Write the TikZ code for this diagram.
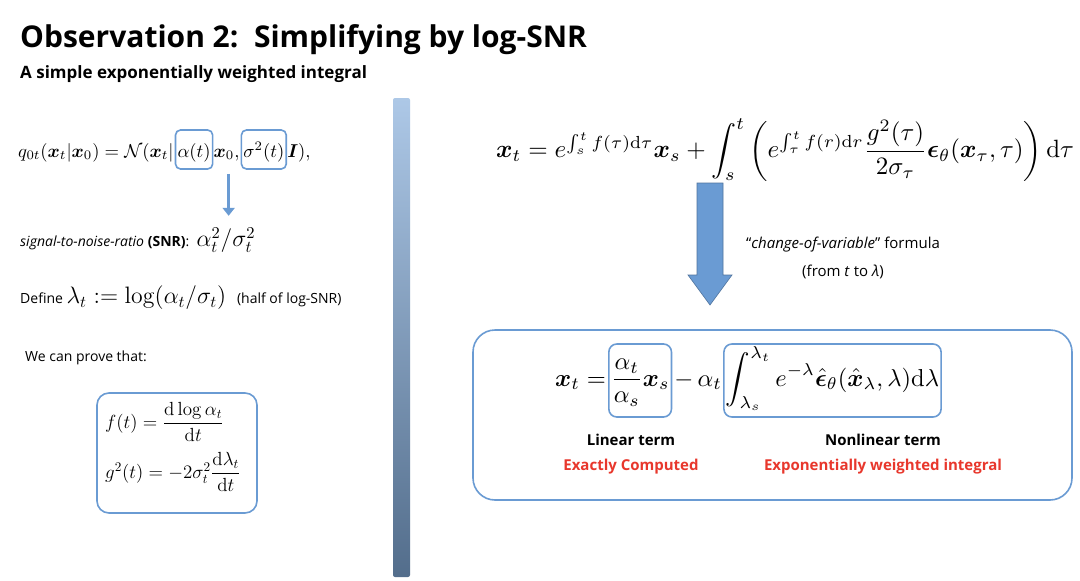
\documentclass[tikz,border=0pt]{standalone}
\usepackage{amsmath,amssymb,bm}
\usepackage[no-math]{fontspec}
\setmainfont{Open Sans}
\usetikzlibrary{arrows.meta}
\definecolor{bb}{HTML}{6A9BD3}
\definecolor{rr}{HTML}{E8372C}
\tikzset{
 hl/.style={draw=bb,line width=1.6pt,rounded corners=5pt},
 mp/.style={inner sep=0pt,anchor=base west},
 txt/.style={anchor=west,inner sep=0pt,font=\fontsize{14}{16}\selectfont},
 lab/.style={inner sep=0pt,font=\fontsize{15}{17}\selectfont\bfseries}
}
\newcommand{\ls}[1]{\scalebox{1.86}{$#1$}}
\newcommand{\bs}[1]{\scalebox{2.45}{$\displaystyle #1$}}
\begin{document}
\begin{tikzpicture}[x=1pt,y=-1pt]
\useasboundingbox (0,0) rectangle (1080,581);
\fill[white] (0,0) rectangle (1080,581);
\node[anchor=west,inner sep=0pt,font=\fontsize{30}{34}\selectfont\bfseries] (title) at (20,40) {Observation 2:\ \ Simplifying by log-SNR};
\node[anchor=west,inner sep=0pt,font=\fontsize{17}{20}\selectfont\bfseries] (sub) at (20,74) {A simple exponentially weighted integral};
\shade[top color=bb!55,bottom color=bb!60!black!90,rounded corners=2pt] (393,98) rectangle (410,577);
% left formula
\node[mp] (q1) at (18,157) {\ls{q_{0t}(\bm{x}_t|\bm{x}_0)=\mathcal{N}(\bm{x}_t|}};
\node[mp,hl,inner sep=2pt,text height=25pt,text depth=10pt,anchor=base west] (qa) at ([xshift=1pt]q1.base east) {\ls{\alpha(t)}};
\node[mp] (q2) at (qa.base east) {\ls{\bm{x}_0,}};
\node[mp,hl,inner sep=2pt,text height=25pt,text depth=10pt,anchor=base west] (qs) at ([xshift=1pt]q2.base east) {\ls{\sigma^2(t)}};
\node[mp] (q3) at (qs.base east) {\ls{\bm{I}),}};
\draw[bb,line width=3.5pt,-{Triangle[length=8pt,width=12pt]}] ([xshift=-12pt,yshift=-4pt]qs.south west) -- ++(0,42);
\node[txt] (snr) at (20,240) {\textit{signal-to-noise-ratio} \textbf{(SNR)}:\ \ \scalebox{1.65}{$\alpha_t^2/\sigma_t^2$}};
\node[txt] (def) at (20,298) {Define \scalebox{1.65}{$\lambda_t\mathrel{\mathop:}=\log(\alpha_t/\sigma_t)$}\ \ \ (half of log-SNR)};
\node[txt] (prove) at (25,358) {We can prove that:};
\draw[hl,rounded corners=12pt] (97,393) rectangle (257,513);
\node[txt] (f) at (105,422) {\scalebox{1.32}{$f(t)=\dfrac{\mathrm{d}\log\alpha_t}{\mathrm{d}t}$}};
\node[txt] (g) at (105,472) {\scalebox{1.32}{$g^2(t)=-2\sigma_t^2\dfrac{\mathrm{d}\lambda_t}{\mathrm{d}t}$}};
% right top
\node[inner sep=0pt] (top) at (785,150) {\scalebox{2.5}{$\bm{x}_t=e^{\int_s^t f(\tau)\mathrm{d}\tau}\bm{x}_s+\displaystyle\int_s^t\left(e^{\int_\tau^t f(r)\mathrm{d}r}\frac{g^2(\tau)}{2\sigma_\tau}\bm{\epsilon}_\theta(\bm{x}_\tau,\tau)\right)\mathrm{d}\tau$}};
\filldraw[fill=bb,draw=bb!75!black,line width=0.6pt] (697,183) -- (723,183) -- (723,275) -- (732,275) -- (710,305) -- (688,275) -- (697,275) -- cycle;
\node[inner sep=0pt,font=\fontsize{15}{17}\selectfont] (cv1) at (843,245) {``\textit{change-of-variable}'' formula};
\node[inner sep=0pt,font=\fontsize{15}{17}\selectfont] (cv2) at (843,272) {(from \textit{t} to \textit{λ})};
\draw[hl,rounded corners=22pt] (473,330) rectangle (1072,500);
% bottom formula
\node[mp] (e1) at (555,386) {\bs{\bm{x}_t=}};
\node[mp,hl,rounded corners=8pt,inner sep=2pt,text height=40pt,text depth=29pt] (e2) at ([xshift=2pt]e1.base east) {\bs{\frac{\alpha_t}{\alpha_s}\bm{x}_s}};
\node[mp] (e3) at ([xshift=2pt]e2.base east) {\bs{-\,\alpha_t}};
\node[mp,hl,rounded corners=8pt,inner sep=2pt,text height=40pt,text depth=29pt] (e4) at ([xshift=1pt]e3.base east) {\bs{\int_{\lambda_s}^{\lambda_t}e^{-\lambda}\hat{\bm{\epsilon}}_\theta(\hat{\bm{x}}_\lambda,\lambda)\mathrm{d}\lambda}};
\node[lab] (l1) at (631,440) {Linear term};
\node[lab,text=rr] (l2) at (631,467) {Exactly Computed};
\node[lab] (n1) at (883,440) {Nonlinear term};
\node[lab,text=rr] (n2) at (883,467) {Exponentially weighted integral};
\end{tikzpicture}
\end{document}
